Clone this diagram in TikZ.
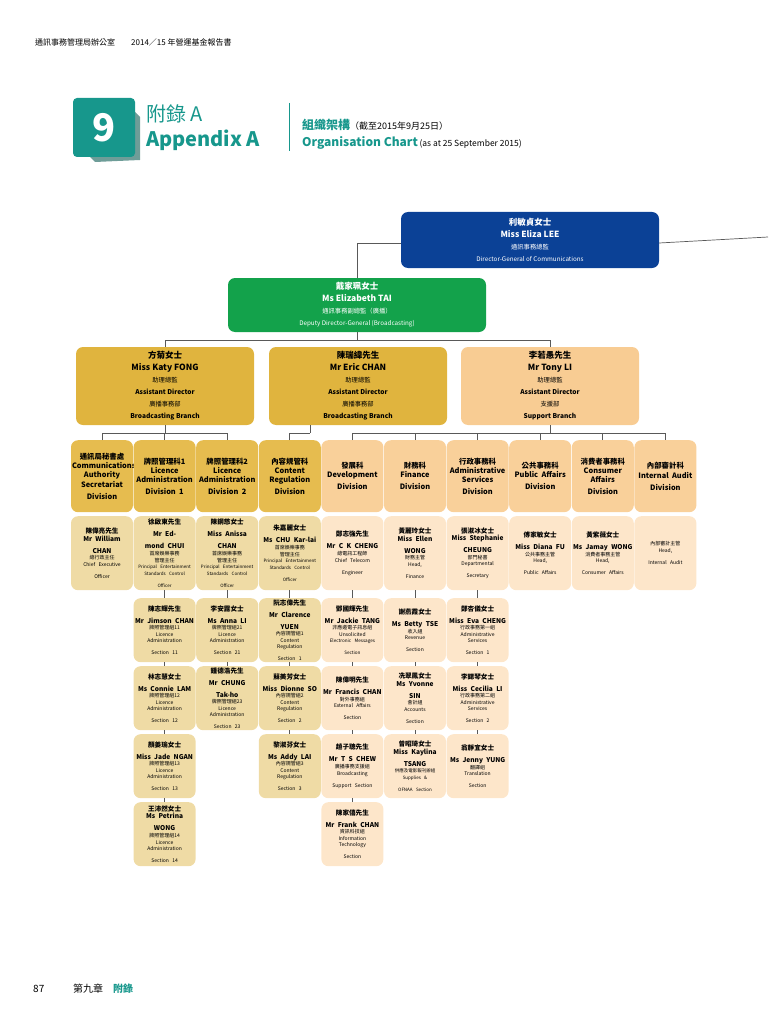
\documentclass[tikz,border=0pt]{standalone}
\usepackage{fontspec}
\setmainfont{Noto Sans CJK TC}
\usetikzlibrary{positioning}
\definecolor{dgblue}{HTML}{0B4196}
\definecolor{ddgreen}{HTML}{13A24B}
\definecolor{teal}{HTML}{17978C}
\definecolor{gA}{HTML}{E0B43E}
\definecolor{gB}{HTML}{E6BC4F}
\definecolor{gC}{HTML}{EFDBA5}
\definecolor{pA}{HTML}{F8CC93}
\definecolor{pB}{HTML}{F9D09A}
\definecolor{pC}{HTML}{FDE6CA}
\newcommand\nm[1]{{\fontsize{6.6}{7.6}\selectfont\bfseries #1}}
\newcommand\tl[1]{{\fontsize{5}{6.6}\selectfont #1}}
\newcommand\dv[1]{{\fontsize{7.4}{9.3}\selectfont\bfseries #1}}
\begin{document}
\begin{tikzpicture}[x=1pt,y=-1pt,
  base/.style={rounded corners=7pt,align=center,inner sep=1pt,anchor=center},
  big/.style={base,minimum width=178pt,minimum height=78pt},
  div/.style={base,minimum width=60pt,minimum height=72pt,text width=60pt,anchor=north},
  hd/.style={base,minimum width=60pt,minimum height=74pt,text width=60pt,anchor=north},
  sec/.style={base,minimum width=60pt,minimum height=64pt,text width=60pt,anchor=north},
  ln/.style={draw=gray!70!black,line width=0.7pt}]
\useasboundingbox (0,0) rectangle (768,1024);
% header
\node[anchor=west,inner sep=0] (hdr) at (35,42) {\fontsize{8}{9}\selectfont 通訊事務管理局辦公室\quad\quad 2014／15 年營運基金報告書};
\fill[teal!60!black,opacity=.6] (90,157) -- (135,112) -- (140,117) -- (140,160) -- (95,162) -- cycle;
\node[fill=teal,rounded corners=4pt,minimum width=62pt,minimum height=59pt,text=white,font=\fontsize{38}{40}\selectfont\bfseries] (nine) at (104,127.5) {9};
\node[anchor=west,inner sep=0,text=teal] (fl) at (146,114) {\fontsize{20}{22}\selectfont 附錄 A};
\node[anchor=west,inner sep=0,text=teal] (aa) at (146,140) {\fontsize{20}{22}\selectfont\bfseries Appendix A};
\draw[teal,line width=0.8pt] (289,103) -- (289,151);
\node[anchor=west,inner sep=0] (zz) at (302,125) {\textcolor{teal}{\fontsize{12}{13}\selectfont\bfseries 組織架構}{\fontsize{9}{10}\selectfont（截至2015年9月25日）}};
\node[anchor=west,inner sep=0] (oc) at (302,143) {\textcolor{teal}{\fontsize{12}{13}\selectfont\bfseries Organisation Chart}\,{\fontsize{8.5}{10}\selectfont(as at 25 September 2015)}};
% top
\node[base,fill=dgblue,text=white,minimum width=258pt,minimum height=56pt] (dg) at (530,240)
 {{\fontsize{8.5}{10}\selectfont\bfseries 利敏貞女士}\\{\fontsize{8.5}{10}\selectfont\bfseries Miss Eliza LEE}\\{\fontsize{6.3}{7.8}\selectfont 通訊事務總監}\\{\fontsize{6.3}{7.8}\selectfont Director-General of Communications}};
\node[base,fill=ddgreen,text=white,minimum width=258pt,minimum height=54pt] (ddg) at (357,305)
 {{\fontsize{8.5}{10}\selectfont\bfseries 戴家珮女士}\\{\fontsize{8.5}{10}\selectfont\bfseries Ms Elizabeth TAI}\\{\fontsize{6.3}{7.8}\selectfont 通訊事務副總監（廣播）}\\{\fontsize{6.3}{7.8}\selectfont Deputy Director-General (Broadcasting)}};
\coordinate (rt) at (768,237);
\draw[ln] ([yshift=-3pt]dg.west) -| (ddg.north);
\draw[ln] ([yshift=-3pt]dg.east) -- (rt);
\newcommand\adtxt[4]{{\fontsize{8.5}{10}\selectfont\bfseries #1}\\{\fontsize{8.5}{10}\selectfont\bfseries #2}\\{\fontsize{6.3}{8.6}\selectfont 助理總監}\\{\fontsize{6.6}{8.6}\selectfont\bfseries Assistant Director}\\{\fontsize{6.3}{8.6}\selectfont #3}\\{\fontsize{6.6}{8.6}\selectfont\bfseries #4}}
\node[big,fill=gA] (katy) at (165,386) {\adtxt{方菊女士}{Miss Katy FONG}{廣播事務部}{Broadcasting Branch}};
\node[big,fill=gA] (eric) at (358,386) {\adtxt{陳瑞緯先生}{Mr Eric CHAN}{廣播事務部}{Broadcasting Branch}};
\node[big,fill=pA] (tony) at (550,386) {\adtxt{李若愚先生}{Mr Tony LI}{支援部}{Support Branch}};
\draw[ln] (ddg.south) -- ++(0,8) coordinate (m);
\draw[ln] (katy.north) |- (m) -| (tony.north);
% divisions
\node[div,fill=gB] (d1) at (102,440) {\dv{通訊局秘書處\\Communications\\Authority\\Secretariat\\Division}};
\node[div,fill=gB] (d2) at (164.6,440) {\dv{牌照管理科1\\Licence\\Administration\\Division 1}};
\node[div,fill=gB] (d3) at (227.2,440) {\dv{牌照管理科2\\Licence\\Administration\\Division 2}};
\node[div,fill=gB] (d4) at (289.8,440) {\dv{內容規管科\\Content\\Regulation\\Division}};
\node[div,fill=pB] (d5) at (352.4,440) {\dv{發展科\\Development\\Division}};
\node[div,fill=pB] (d6) at (415,440) {\dv{財務科\\Finance\\Division}};
\node[div,fill=pB] (d7) at (477.6,440) {\dv{行政事務科\\Administrative\\Services\\Division}};
\node[div,fill=pB] (d8) at (540.2,440) {\dv{公共事務科\\Public Affairs\\Division}};
\node[div,fill=pB] (d9) at (602.8,440) {\dv{消費者事務科\\Consumer\\Affairs\\Division}};
\node[div,fill=pB] (d10) at (665.4,440) {\dv{內部審計科\\Internal Audit\\Division}};
\draw[ln] (katy.south) -- ++(0,8) coordinate (kk);
\draw[ln] (d1.north) |- (kk) -| (d3.north);
\draw[ln] (d2.north) -- (d2.north |- kk);
\draw[ln] ([xshift=-48pt]eric.south) -- ++(0,8) coordinate (ee);
\draw[ln] (d4.north) |- (ee);
\draw[ln] (tony.south) -- ++(0,8) coordinate (tt);
\draw[ln] (d5.north) |- (tt) -| (d10.north);
\foreach \d in {d6,d7,d8,d9} \draw[ln] (\d.north) -- (\d.north |- tt);
% heads
\node[hd,fill=gC] (h1) at (102,516) {\nm{陳偉亮先生\\Mr William\\CHAN}\\\tl{總行政主任\\Chief Executive\\Officer}};
\node[hd,fill=gC] (h2) at (164.6,516) {\nm{徐啟東先生\\Mr Edmond CHUI}\\\tl{首席娛樂事務\\管理主任\\\fontsize{4.5}{6.6}\selectfont Principal Entertainment\\Standards Control\\Officer}};
\node[hd,fill=gC] (h3) at (227.2,516) {\nm{陳鋼慈女士\\Miss Anissa CHAN}\\\tl{首席娛樂事務\\管理主任\\\fontsize{4.5}{6.6}\selectfont Principal Entertainment\\Standards Control\\Officer}};
\node[hd,fill=gC] (h4) at (289.8,516) {\nm{朱嘉麗女士\\Ms CHU Kar-lai}\\\tl{首席娛樂事務\\管理主任\\\fontsize{4.5}{6.6}\selectfont Principal Entertainment\\Standards Control\\Officer}};
\node[hd,fill=pC] (h5) at (352.4,516) {\nm{鄭志強先生\\Mr C K CHENG}\\\tl{總電訊工程師\\Chief Telecom\\Engineer}\\[10pt]};
\node[hd,fill=pC] (h6) at (415,516) {\nm{黃麗玲女士\\Miss Ellen\\WONG}\\\tl{財務主管\\Head,\\Finance}};
\node[hd,fill=pC] (h7) at (477.6,516) {\nm{張淑冰女士\\Miss Stephanie\\CHEUNG}\\\tl{部門秘書\\Departmental\\Secretary}};
\node[hd,fill=pC] (h8) at (540.2,516) {\nm{傅家敏女士\\Miss Diana FU}\\\tl{公共事務主管\\Head,\\Public Affairs}\\[10pt]};
\node[hd,fill=pC] (h9) at (602.8,516) {\nm{黃紫薇女士\\Ms Jamay WONG}\\\tl{消費者事務主管\\Head,\\Consumer Affairs}\\[10pt]};
\node[hd,fill=pC] (h10) at (665.4,516) {\tl{內部審計主管\\Head,\\Internal Audit}};
% sections
\newcommand\sx[4]{\nm{#1\\#2}\\\tl{#3\\#4}}
\node[sec,fill=gC] (s21) at (164.6,598) {\sx{陳志輝先生}{Mr Jimson CHAN}{牌照管理組11}{Licence\\Administration\\Section 11}};
\node[sec,fill=gC] (s22) at (164.6,666) {\sx{林志慧女士}{Ms Connie LAM}{牌照管理組12}{Licence\\Administration\\Section 12}};
\node[sec,fill=gC] (s23) at (164.6,734) {\sx{顏姜瑜女士}{Miss Jade NGAN}{牌照管理組13}{Licence\\Administration\\Section 13}};
\node[sec,fill=gC] (s24) at (164.6,802) {\sx{王沛然女士}{Ms Petrina\\WONG}{牌照管理組14}{Licence\\Administration\\Section 14}};
\node[sec,fill=gC] (s31) at (227.2,598) {\sx{李安露女士}{Ms Anna LI}{牌照管理組21}{Licence\\Administration\\Section 21}};
\node[sec,fill=gC] (s32) at (227.2,666) {\sx{鍾德浩先生}{Mr CHUNG Tak-ho}{牌照管理組23}{Licence\\Administration\\Section 23}};
\node[sec,fill=gC] (s41) at (289.8,598) {\sx{阮志偉先生}{Mr Clarence YUEN}{內容規管組1}{Content\\Regulation\\Section 1}};
\node[sec,fill=gC] (s42) at (289.8,666) {\sx{蘇美芳女士}{Miss Dionne SO}{內容規管組2}{Content\\Regulation\\Section 2}};
\node[sec,fill=gC] (s43) at (289.8,734) {\sx{黎淑芬女士}{Ms Addy LAI}{內容規管組3}{Content\\Regulation\\Section 3}};
\node[sec,fill=pC] (s51) at (352.4,598) {\sx{鄧國輝先生}{Mr Jackie TANG}{非應邀電子訊息組}{Unsolicited\\\fontsize{4.6}{6.6}\selectfont Electronic Messages\\Section}};
\node[sec,fill=pC] (s52) at (352.4,666) {\sx{陳偉明先生}{Mr Francis CHAN}{對外事務組}{External Affairs\\Section}\\[6pt]};
\node[sec,fill=pC] (s53) at (352.4,734) {\sx{趙子聰先生}{Mr T S CHEW}{廣播事務支援組}{Broadcasting\\Support Section}\\[6pt]};
\node[sec,fill=pC] (s54) at (352.4,802) {\sx{陳家僖先生}{Mr Frank CHAN}{資訊科技組}{Information\\Technology\\Section}};
\node[sec,fill=pC] (s61) at (415,598) {\sx{謝燕霞女士}{Ms Betty TSE}{收入組}{Revenue\\Section}\\[6pt]};
\node[sec,fill=pC] (s62) at (415,666) {\sx{冼翠鳳女士}{Ms Yvonne\\SIN}{會計組}{Accounts\\Section}};
\node[sec,fill=pC] (s63) at (415,734) {\sx{曾昭琦女士}{Miss Kaylina\\TSANG}{\fontsize{4.5}{6.6}\selectfont 供應及電影報刊辦組}{Supplies \&\\OFNAA Section}};
\node[sec,fill=pC] (s71) at (477.6,598) {\sx{鄭杏儀女士}{Miss Eva CHENG}{行政事務第一組}{Administrative\\Services\\Section 1}};
\node[sec,fill=pC] (s72) at (477.6,666) {\sx{李鍶琴女士}{Miss Cecilia LI}{行政事務第二組}{Administrative\\Services\\Section 2}};
\node[sec,fill=pC] (s73) at (477.6,734) {\sx{翁靜宜女士}{Ms Jenny YUNG}{翻譯組}{Translation\\Section}\\[6pt]};
\foreach \a/\b in {h2/s21,s21/s22,s22/s23,s23/s24,h3/s31,s31/s32,h4/s41,s41/s42,s42/s43,h5/s51,s51/s52,s52/s53,s53/s54,h6/s61,s61/s62,s62/s63,h7/s71,s71/s72,s72/s73}
  \draw[ln] (\a.south) -- (\b.north);
% footer
\node[anchor=west,inner sep=0] (pg) at (33,989) {\fontsize{10}{11}\selectfont 87};
\node[anchor=west,inner sep=0] (ch) at (73,989) {\fontsize{10}{11}\selectfont 第九章\quad\textcolor{teal}{\bfseries 附錄}};
\end{tikzpicture}
\end{document}
